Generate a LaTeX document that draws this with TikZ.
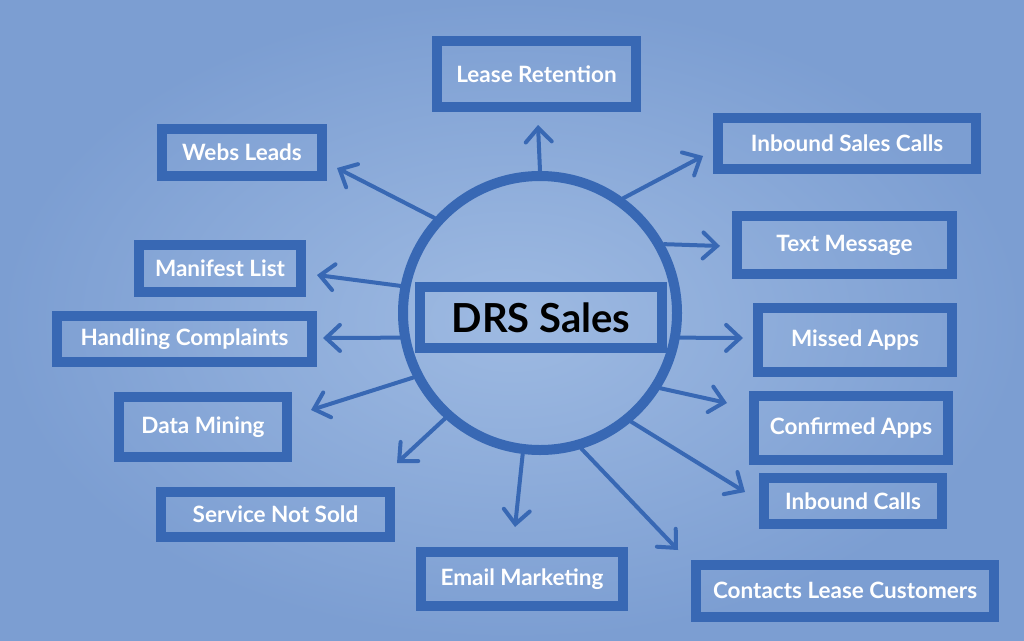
\documentclass[tikz,border=0pt]{standalone}
\usepackage{fontspec}
\setmainfont{Lato}
\usetikzlibrary{arrows.meta}
\definecolor{bgblue}{RGB}{124,158,210}
\definecolor{bglight}{RGB}{158,186,226}
\definecolor{boxblue}{RGB}{56,104,180}
\tikzset{
  item/.style={draw=boxblue,line width=10pt,inner sep=0pt,text=white,
    font=\fontsize{22.5}{26}\selectfont\bfseries},
  hubring/.style={circle,draw=boxblue,line width=10pt,minimum size=274pt,inner sep=0pt},
  arr/.style={draw=boxblue,line width=4pt,line cap=round,
    -{Straight Barb[length=14pt,width=26pt,line cap=round]}}
}
\begin{document}
\begin{tikzpicture}[x=1pt,y=-1pt]
\shade[inner color=bglight,outer color=bgblue] (0,0) rectangle (1024,640);
\useasboundingbox (0,0) rectangle (1024,640);
\node[hubring] (hub) at (540,313) {};
\node[item,minimum width=242,minimum height=61,text=black,
  font=\fontsize{40}{44}\selectfont\bfseries] (drs) at (541,317.5) {DRS Sales};
\foreach \n/\x/\y/\w/\h/\t in {
  lease/536.5/74/199/66/{Lease Retention},
  webs/242/152.5/160/47/{Webs Leads},
  insales/847/143.5/258/51/{Inbound Sales Calls},
  textmsg/844.5/245/215/58/{Text Message},
  manifest/220/268.5/162/47/{Manifest List},
  handling/184.5/339/255/46/{Handling Complaints},
  missed/855/340/194/64/{Missed Apps},
  mining/203/427/168/60/{Data Mining},
  confirmed/851/428/194/64/{Confirmed Apps},
  incalls/853/501/178/46/{Inbound Calls},
  notsold/275.5/514.5/229/45/{Service Not Sold},
  email/522/579/202/54/{Email Marketing},
  contacts/845/590.5/298/52/{Contacts Lease Customers}}
  \node[item,minimum width=\w,minimum height=\h] (\n) at (\x,\y) {\t};
\foreach \n/\a/\x/\y in {
  lease/90/538/125, webs/138/337/168, insales/54/703/156,
  textmsg/29/720/246, manifest/169/317/275, handling/190/323/338,
  missed/350/743/338, mining/207/311/410, confirmed/328/727/403,
  incalls/310/745/492, contacts/287/678/550, email/263/515/527,
  notsold/228/397/463}{
  \coordinate (\n-tip) at (\x,\y);
  \draw[arr] (hub.\a) -- (\n-tip);
}
\end{tikzpicture}
\end{document}
